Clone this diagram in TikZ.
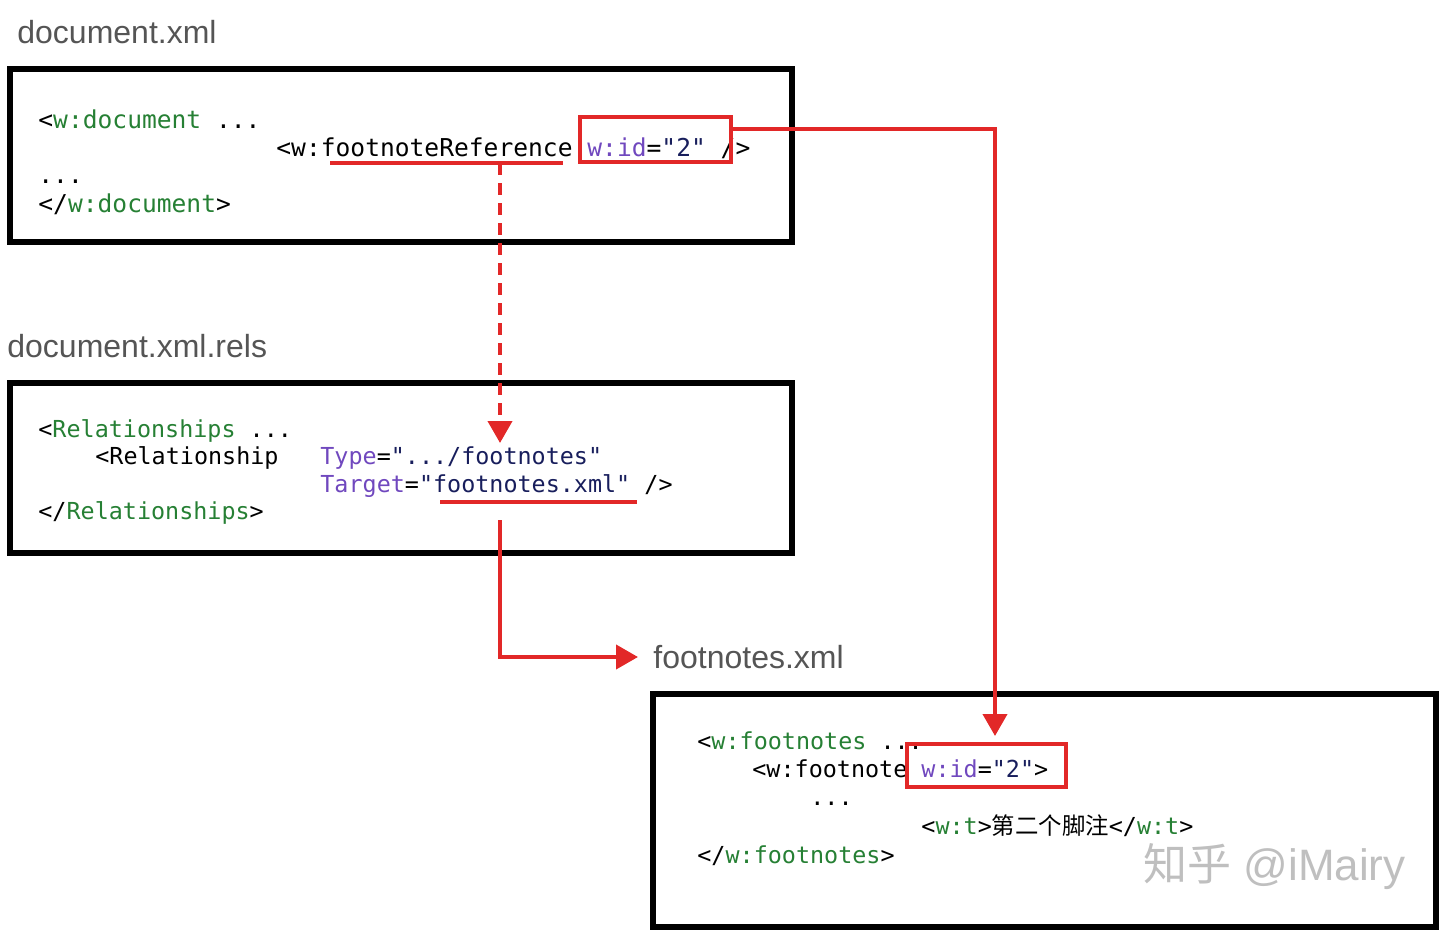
\documentclass[tikz,border=0pt]{standalone}
\usepackage{fontspec}
\setmainfont{Liberation Sans}
\setmonofont{DejaVu Sans Mono}
\newfontfamily\cjk{Noto Sans CJK SC}
\usepackage{tikz}
\usetikzlibrary{arrows.meta}

\definecolor{xmltag}{RGB}{38,128,52}
\definecolor{xmlattr}{RGB}{112,72,190}
\definecolor{xmlval}{RGB}{24,30,92}
\definecolor{linkred}{RGB}{226,40,40}
\definecolor{titlegray}{RGB}{85,85,85}
\newcommand{\xtag}[1]{\textcolor{xmltag}{#1}}
\newcommand{\xattr}[1]{\textcolor{xmlattr}{#1}}
\newcommand{\xval}[1]{\textcolor{xmlval}{#1}}

\begin{document}
\begin{tikzpicture}[x=0.5pt,y=-0.5pt,
  code/.style={anchor=base west,inner sep=0pt,font=\ttfamily\fontsize{11.7}{14}\selectfont},
  bigcode/.style={code,font=\ttfamily\fontsize{12.3}{14}\selectfont},
  title/.style={anchor=west,inner sep=0pt,text=titlegray,font=\fontsize{16}{19}\selectfont},
  xmlbox/.style={draw,line width=3pt,inner sep=0pt},
  idbox/.style={draw=linkred,line width=2pt,inner sep=0pt},
  underln/.style={linkred,line width=2pt},
  link/.style={linkred,line width=2pt,-{Triangle[length=11pt,width=12pt]}}]
  \useasboundingbox (0,0) rectangle (1440,931);

  % boxes
  \node[xmlbox,minimum width=391pt,minimum height=86.5pt] (docbox) at (401,155.5) {};
  \node[xmlbox,minimum width=391pt,minimum height=85pt] (relbox) at (401,468) {};
  \node[xmlbox,minimum width=391.5pt,minimum height=116.5pt] (fnbox) at (1044.5,810.5) {};

  % titles
  \node[title] (doctitle) at (17,32) {document.xml};
  \node[title] (reltitle) at (7,346) {document.xml.rels};
  \node[title] (fntitle) at (653,657) {footnotes.xml};

  % document.xml
  \node[bigcode] (d1) at (38,128) {<\xtag{w:document} ...};
  \node[bigcode] (d2) at (276,156) {<w:footnoteReference \xattr{w:id}=\xval{"2"} />};
  \node[bigcode] (d3) at (38,184) {...};
  \node[bigcode] (d4) at (38,212) {</\xtag{w:document}>};
  \node[idbox,minimum width=75.5pt,minimum height=22.5pt] (docid) at (655.5,139.5) {};

  % document.xml.rels
  \node[code] (r1) at (38,437) {<\xtag{Relationships} ...};
  \node[code] (r2) at (95,464) {<Relationship};
  \node[code] (r3) at (320,464) {\xattr{Type}=\xval{".../footnotes"}};
  \node[code] (r4) at (320,492) {\xattr{Target}=\xval{"footnotes.xml"} />};
  \node[code] (r5) at (38,519) {</\xtag{Relationships}>};

  % footnotes.xml
  \node[code] (f1) at (697,749) {<\xtag{w:footnotes} ...};
  \node[code] (f2) at (752,777) {<w:footnote \xattr{w:id}=\xval{"2"}>};
  \node[code] (f3) at (810,805) {...};
  \node[code] (f4) at (921,834) {<\xtag{w:t}>{\cjk 第二个脚注}</\xtag{w:t}>};
  \node[code] (f5) at (697,863) {</\xtag{w:footnotes}>};
  \node[idbox,minimum width=79.5pt,minimum height=21.5pt] (fnid) at (986.5,765.5) {};

  \node[anchor=west,inner sep=0pt,text=black!25,font=\fontsize{22}{25}\selectfont] (mark) at (1143,867) {{\cjk 知乎} @iMairy};

  % links
  \coordinate (refL) at (330,163);
  \coordinate (refR) at (563,163);
  \coordinate (refU) at (500,163);
  \coordinate (typeT) at (500,443);
  \coordinate (tgtL) at (440,502);
  \coordinate (tgtR) at (637,502);
  \coordinate (tgtU) at (500,520);
  \draw[underln] (refL) -- (refR);
  \draw[underln] (tgtL) -- (tgtR);
  \draw[link,dash pattern=on 6pt off 4pt] (refU) -- (typeT);
  \draw[link,shorten >=7.5pt] (tgtU) |- (fntitle.west);
  \draw[link,shorten >=3pt] ([yshift=5.25pt]docid.east) -| ([xshift=4.25pt]fnid.north);
\end{tikzpicture}
\end{document}
